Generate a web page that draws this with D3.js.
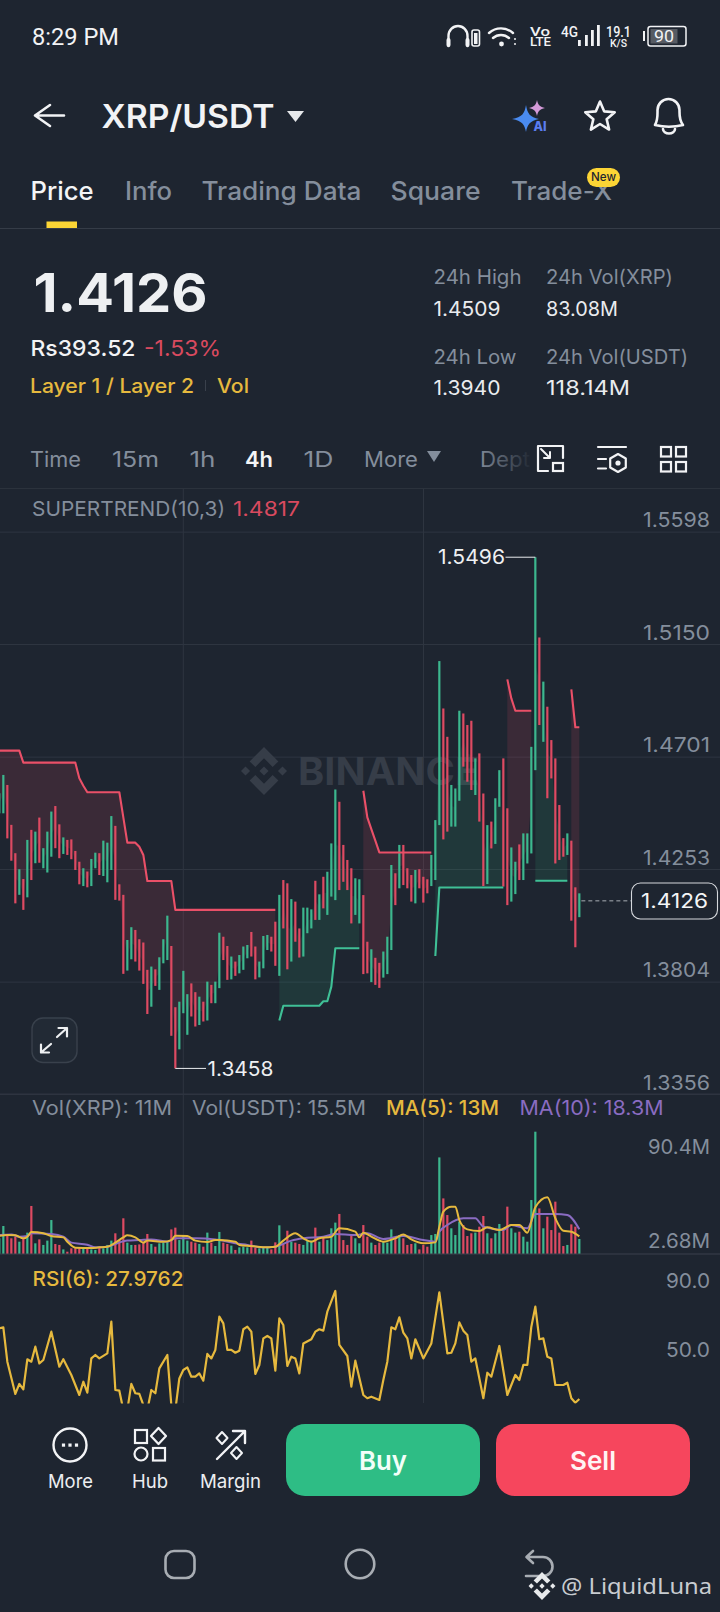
<!DOCTYPE html>
<html><head><meta charset="utf-8">
<script src="https://cdn.jsdelivr.net/npm/d3@7/dist/d3.min.js"></script>
<style>html,body{margin:0;padding:0;background:#1e2530;overflow:hidden}svg{display:block}</style>
</head><body><svg id="c" width="720" height="1612"></svg>
<script>
// ---- values ----
const firstIndex = -1;
const highs = [1.4555,1.4628,1.4588,1.4429,1.4316,1.4252,1.4213,1.4369,1.4409,1.4402,1.4458,
1.4336,1.4402,1.4482,1.4504,1.4431,1.4379,1.4369,1.4371,1.4325,1.4282,
1.4256,1.4243,1.4293,1.4318,1.4316,1.4366,1.4358,1.4464,1.4425,1.4192,
1.4150,1.3970,1.4021,1.4010,1.3973,1.3960,1.3851,1.3864,1.3853,1.3901,
1.3973,1.4067,1.3946,1.3702,1.3724,1.3847,1.3754,1.3797,1.3762,1.3744,
1.3724,1.3804,1.3791,1.3804,1.3999,1.3983,1.3946,1.3904,1.3884,1.3910,
1.3944,1.3950,1.4002,1.3944,1.3884,1.3986,1.3990,1.3983,1.4043,1.4150,
1.4209,1.4196,1.4133,1.4123,1.4016,1.4099,1.4099,1.4092,1.4206,1.4152,
1.4222,1.4242,1.4355,1.4570,1.4521,1.4349,1.4289,1.4256,1.4216,1.4212,
1.4149,1.3963,1.3933,1.3899,1.3879,1.3924,1.3983,1.4269,1.4236,1.4349,
1.4349,1.4256,1.4229,1.4249,1.4252,1.4222,1.4212,1.4309,1.4448,1.5082,
1.4893,1.4780,1.4588,1.4574,1.4884,1.4873,1.4827,1.4844,1.4694,1.4714,
1.4554,1.4428,1.4442,1.4535,1.4647,1.4694,1.4495,1.4339,1.4282,1.4351,
1.4395,1.4395,1.4740,1.5496,1.5176,1.5000,1.4900,1.4767,1.4694,1.4508,
1.4376,1.4395,1.4366,1.4180,1.4156];
const lows = [1.4475,1.4475,1.4375,1.4286,1.4116,1.4150,1.4090,1.4140,1.4209,1.4276,1.4278,
1.4256,1.4239,1.4302,1.4336,1.4296,1.4313,1.4309,1.4292,1.4249,1.4192,
1.4185,1.4180,1.4185,1.4256,1.4229,1.4225,1.4200,1.4249,1.4130,1.4127,
1.3835,1.3848,1.3893,1.3884,1.3848,1.3795,1.3675,1.3704,1.3787,1.3771,
1.3877,1.3890,1.3588,1.3458,1.3534,1.3678,1.3592,1.3665,1.3625,1.3631,
1.3645,1.3649,1.3718,1.3718,1.3778,1.3890,1.3811,1.3813,1.3827,1.3837,
1.3851,1.3897,1.3904,1.3813,1.3821,1.3857,1.3930,1.3924,1.3867,1.3827,
1.4016,1.3853,1.3884,1.3963,1.3900,1.3904,1.3997,1.4016,1.4050,1.4050,
1.4096,1.4070,1.4143,1.4129,1.4169,1.4202,1.4169,1.4036,1.4070,1.4036,
1.3834,1.3837,1.3802,1.3791,1.3779,1.3820,1.3834,1.3930,1.4109,1.4176,
1.4189,1.4176,1.4123,1.4116,1.4176,1.4119,1.4156,1.4185,1.4209,1.4428,
1.4371,1.4402,1.4422,1.4422,1.4525,1.4661,1.4601,1.4568,1.4548,1.4442,
1.4185,1.4193,1.4335,1.4353,1.4501,1.4183,1.4109,1.4123,1.4153,1.4209,
1.4209,1.4275,1.4315,1.4647,1.4827,1.4760,1.4535,1.4614,1.4275,1.4289,
1.4302,1.4309,1.4047,1.3941,1.4061];
const directions = ("G"+"GRRRGRGRGR"+"GGGRRGRRRR"+"GRGGRGGGRR"+"RGGRRRRGRG"+"GGRRGGGRRG"+
"RGRGGRRGRG"+"GGRRGGGRRG"+"RRGRRGGGRG"+"RGGGRRRRGG"+"RRGRRGGGRG"+
"RRRGRRRGGG"+"RRGGGRRRGR"+"RGRGGRRGGR"+"GGGGRGRRRR"+"RGRRG").split("");
const volumes = [11.6,20.7,13.8,11.6,12.8,9.1,12.1,15.8,35.5,7.9,10.8,
6.7,9.9,25.1,7.4,6.7,3.4,1.7,4.2,4.2,4.2,
4.2,4.2,3.4,3.0,4.9,4.2,6.7,9.9,15.3,10.3,
26.4,8.4,6.7,6.7,7.1,9.1,14.8,7.4,5.4,7.9,
8.4,9.1,18.2,19.5,10.3,14.0,9.9,9.1,8.4,7.4,
5.4,15.8,8.4,5.9,16.3,8.4,7.4,6.2,3.0,4.9,
5.4,4.9,9.9,4.7,4.2,4.9,4.9,3.4,8.6,21.2,
7.4,17.2,9.1,8.4,7.4,6.7,10.3,9.9,19.5,9.1,
13.3,10.3,19.0,23.2,29.6,10.3,6.7,14.8,11.6,7.9,
21.4,12.8,8.4,6.7,8.4,9.1,8.4,18.2,11.6,14.0,
11.6,6.7,7.4,7.9,3.4,6.7,5.4,14.0,14.8,71.4,
41.1,28.8,19.0,14.0,23.9,21.4,13.3,15.3,15.8,20.2,
28.1,15.3,11.6,15.3,22.2,17.7,35.0,19.0,15.8,16.5,
12.8,9.1,39.9,90.4,33.7,19.0,27.6,17.7,38.7,15.8,
5.9,6.7,21.9,20.2,11.1];
const supertrend = [1.4725,1.4725,1.4725,1.4725,1.4725,1.4725,
1.4677,1.4677,1.4677,1.4677,1.4677,1.4677,1.4677,1.4677,1.4677,1.4677,1.4677,1.4677,1.4677,1.4677,
1.4615,1.4585,1.4559,1.4559,1.4559,1.4559,1.4559,1.4559,1.4559,1.4559,1.4559,
1.4459,1.4358,1.4358,1.4358,1.4342,1.4309,1.4205,1.4205,1.4205,1.4205,1.4205,1.4205,1.4205,
1.4090,1.4090,1.4090,1.4090,1.4090,1.4090,1.4090,1.4090,1.4090,1.4090,1.4090,1.4090,1.4090,
1.4090,1.4090,1.4090,1.4090,1.4090,1.4090,1.4090,1.4090,1.4090,1.4090,1.4090,1.4090,1.4090,
1.3649,1.3708,1.3708,1.3708,1.3708,1.3708,1.3708,1.3708,1.3708,1.3708,1.3708,1.3726,1.3726,1.3784,
1.3937,1.3937,1.3937,1.3937,1.3937,1.3937,1.3937,
1.4565,1.4459,1.4412,1.4366,1.4319,1.4319,1.4319,1.4319,1.4319,1.4319,1.4319,1.4319,1.4319,1.4319,1.4319,1.4319,1.4319,1.4319,
1.3906,1.4179,1.4179,1.4179,1.4179,1.4179,1.4179,1.4179,1.4179,1.4179,1.4179,1.4179,1.4179,1.4179,1.4179,1.4179,1.4179,1.4179,
1.5009,1.4933,1.4884,1.4884,1.4884,1.4884,1.4884,
1.4206,1.4206,1.4206,1.4206,1.4206,1.4206,1.4206,1.4206,1.4206,
1.4969,1.4818,1.4818];
const trendRuns = [["R",-1,68],["G",69,89],["R",90,107],["G",108,125],["R",126,132],["G",133,141],["R",142,144]];
const ma5At = [-1,1,3,5,6,7,10,12,15,16,18,22,24,26,28,30,31,33,35,36,40,42,43,46,48,51,53,54,58,59,62,65,68,70,73,75,77,79,82,84,88,89,90,92,95,98,100,102,105,108,109,110,112,113,114,116,119,121,124,127,129,131,133,136,138,140,142,144];
const ma5Val = [13.5,14.0,13.8,11.6,12.8,16.3,15.3,13.3,12.3,9.1,4.7,4.4,4.9,5.4,8.4,12.3,13.8,12.3,8.4,9.9,9.1,10.3,13.5,13.3,9.9,8.9,10.3,10.3,9.1,6.7,5.9,4.9,5.4,9.9,15.3,11.6,9.1,11.6,12.8,19.0,16.5,12.3,15.8,12.8,9.1,11.6,14.5,10.8,7.9,8.6,20.2,31.3,35.0,35.0,25.1,18.2,17.0,19.7,17.7,21.4,21.4,15.8,34.5,41.9,26.4,17.2,16.5,13.0];
const ma10At = [-1,2,4,6,7,12,15,17,21,23,26,28,31,34,37,41,43,48,53,54,58,61,65,68,72,75,80,83,88,91,95,100,105,108,109,111,115,118,120,125,127,131,133,138,141,144];
const ma10Val = [14.0,14.5,12.8,13.3,15.3,14.8,12.8,8.4,6.9,4.9,5.4,7.4,9.9,10.3,10.8,9.1,11.6,11.6,10.8,10.3,7.9,6.7,4.9,5.4,9.9,11.6,12.8,14.8,14.0,15.3,11.1,13.3,10.3,9.1,16.5,21.4,26.4,26.4,20.2,17.7,21.4,19.0,29.6,29.6,28.8,18.3];
const rsiAt = [-1,0,1,3,4,5,6,7,8,9,10,12,14,15,17,19,20,21,22,23,24,26,27,28,29,30,31,32,33,34,35,36,37,38,39,41,42,43,44,45,46,47,48,49,50,51,52,53,54,55,56,57,58,59,60,61,62,63,64,65,66,67,68,69,70,71,72,73,74,75,77,78,79,80,81,83,84,86,87,88,90,91,92,94,95,96,97,98,99,100,101,102,103,105,107,109,111,112,113,114,115,116,117,118,120,121,122,124,126,128,129,130,131,132,133,134,135,136,137,138,139,140,141,142,143,144];
const rsiVal = [68.9,69.5,49.6,30.9,36.7,33.6,51.0,49.6,58.3,48.6,50.6,67.0,46.7,51.0,41.9,30.3,38.0,31.6,51.5,53.5,51.5,54.4,72.8,33.2,32.8,21.6,21.6,36.7,31.3,30.9,24.5,21.6,33.2,31.3,45.7,53.5,24.5,21.6,39.9,44.8,46.3,40.9,40.9,42.8,38.6,54.1,51.5,56.4,75.7,71.8,56.4,56.4,54.8,56.0,68.4,69.9,67.0,42.5,47.7,63.1,64.5,63.1,44.4,74.7,70.9,47.1,52.5,51.5,42.8,60.2,62.6,67.0,68.4,67.6,78.6,90.6,59.3,52.9,35.1,50.2,30.3,28.4,29.3,27.4,39.0,49.6,69.5,68.4,75.3,66.4,63.1,51.5,62.6,51.5,60.2,89.8,54.4,54.8,60.2,72.4,67.6,65.1,49.6,51.5,28.4,43.2,40.9,58.7,30.3,41.9,39.0,47.7,47.7,69.9,81.5,62.6,63.1,52.5,51.5,36.1,36.1,36.1,37.4,28.4,25.8,27.98];
const priceTicks = [1.5598,1.5150,1.4701,1.4253,1.3804,1.3356];
const volTicks = [90.4,2.68];
const volTickLabels = ["90.4M","2.68M"];
const rsiTicks = [90,50];
const lastPrice = 1.4126, maxPrice = 1.5496, minPrice = 1.3458;
const ranges = ["Time","15m","1h","4h","1D","More"];

// ---- palette ----
const BG="#1e2530", RED="#de4a62", GREEN="#3cb78e", LRED="#ea5068", LGREEN="#3fc096",
      YEL="#e6b93e", PUR="#8a6cc2", GRY="#848e9c", WHT="#eaecef", GRID="#2e3540";
const FONT="Inter, 'Noto Sans', sans-serif";

const svg=d3.select("#c");
svg.append("rect").attr("width",720).attr("height",1612).attr("fill",BG);

// text helper: x is the start (or the middle/end according to anchor), y the vertical centre
function T(s,x,y,size,color,o={}){
  const t=(o.g||svg).append("text").text(s).attr("x",x).attr("y",y).attr("dy",".36em")
    .attr("font-family",o.font||FONT).attr("font-size",size).attr("fill",color)
    .attr("font-weight",o.w||400).attr("text-anchor",o.a||"start");
  if(o.len) t.attr("textLength",o.len).attr("lengthAdjust","spacingAndGlyphs");
  if(o.op) t.attr("opacity",o.op);
  return t;
}
function P(d,o={}){
  return (o.g||svg).append("path").attr("d",d).attr("fill",o.fill||"none")
    .attr("stroke",o.stroke||"none").attr("stroke-width",o.sw||2)
    .attr("stroke-linecap",o.cap||"round").attr("stroke-linejoin","round");
}
function binanceLogo(cx,cy,s,fill,g){
  const shapes=[[[0,-.19],[.19,0],[0,.19],[-.19,0]],[[-.77,-.19],[-.58,0],[-.77,.19],[-.96,0]],[[.77,-.19],[.96,0],[.77,.19],[.58,0]],
    [[0,-1],[.6,-.4],[.36,-.17],[0,-.53],[-.36,-.17],[-.6,-.4]],[[0,1],[.6,.4],[.36,.17],[0,.53],[-.36,.17],[-.6,.4]]];
  shapes.forEach(p=>(g||svg).append("polygon").attr("fill",fill)
    .attr("points",p.map(q=>[cx+q[0]*s,cy+q[1]*s].join(",")).join(" ")));
}

// ---- status bar ----
T("8:29 PM",32,37,23,"#f2f3f5",{font:"Roboto",len:87});
P("M448.5 46 V36 a9.5 10 0 0 1 19 0 V46",{stroke:"#f2f3f5",sw:2.4});
svg.append("rect").attr("x",446.5).attr("y",38).attr("width",4).attr("height",9).attr("rx",2).attr("fill","#f2f3f5");
svg.append("rect").attr("x",465.5).attr("y",38).attr("width",4).attr("height",9).attr("rx",2).attr("fill","#f2f3f5");
svg.append("rect").attr("x",472).attr("y",30).attr("width",7.5).attr("height",16).attr("rx",2).attr("fill","none").attr("stroke","#f2f3f5").attr("stroke-width",1.6);
svg.append("rect").attr("x",474).attr("y",33).attr("width",3.5).attr("height",11).attr("fill","#f2f3f5");
P("M489 33 a18 18 0 0 1 24 0",{stroke:"#f2f3f5",sw:2.4});
P("M493 38 a12 12 0 0 1 16 0",{stroke:"#f2f3f5",sw:2.4});
svg.append("circle").attr("cx",501.5).attr("cy",44).attr("r",2.4).attr("fill","#f2f3f5");
svg.append("circle").attr("cx",515).attr("cy",39).attr("r",1).attr("fill","#f2f3f5");
svg.append("circle").attr("cx",515).attr("cy",44).attr("r",1).attr("fill","#f2f3f5");
T("Vo",530,31,13,"#f2f3f5",{font:"Roboto",w:500,len:20});
T("LTE",530,42,12,"#f2f3f5",{font:"Roboto",w:500,len:21});
T("4G",561,32,14,"#f2f3f5",{font:"Roboto",w:500,len:17});
[[578,40],[585,35],[591,30],[597,25]].forEach(b=>svg.append("rect").attr("x",b[0]).attr("y",b[1]).attr("width",2.8).attr("height",46-b[1]).attr("fill","#f2f3f5"));
T("19.1",606,32,15,"#f2f3f5",{font:"Roboto",w:500,len:25});
T("K/S",610,43.5,11,"#f2f3f5",{font:"Roboto",w:500,len:17});
svg.append("rect").attr("x",643).attr("y",31).attr("width",2).attr("height",10).attr("fill","#f2f3f5");
svg.append("rect").attr("x",648).attr("y",26.5).attr("width",38).attr("height",19.5).attr("rx",2.5).attr("fill","none").attr("stroke","#f2f3f5").attr("stroke-width",1.5);
svg.append("rect").attr("x",650.5).attr("y",29).attr("width",27).attr("height",14.5).attr("fill","#565b63");
T("90",654,36.5,16,"#f2f3f5",{font:"Roboto",len:20});

// ---- header ----
P("M64 115.5 H35 M50 105 L35 115.5 L50 126",{stroke:"#f2f3f5",sw:2.6});
T("XRP/USDT",101.5,116,32,"#f2f3f5",{w:600,len:173});
P("M287 111 H304 L295.5 122 Z",{fill:"#e6e8ea"});
P("M526 105 C527.5 114 530 117 539 119 C530 121 527.5 124 526 132 C524.5 124 522 121 512 119 C522 117 524.5 114 526 105Z",{fill:"#4a8bf0"});
P("M537 100 C538 105 540 107 545 108 C540 109 538 111 537 116 C536 111 534 109 529 108 C534 107 536 105 537 100Z",{fill:"#d49ad8"});
T("AI",533.5,126.5,13,"#5b7ef0",{w:800,len:13});
const starPts=d3.range(10).map(i=>{const r=i%2?7:15.5,a=-Math.PI/2+i*Math.PI/5;return [600+r*Math.cos(a),117+r*Math.sin(a)];});
P("M"+starPts.map(p=>p.join(",")).join("L")+"Z",{stroke:"#f2f3f5",sw:2.6});
P("M655 125 C658 120 657.5 115 657.5 110 A11 11 0 0 1 679.5 110 C679.5 115 679 120 683 125 Q669 128.5 655 125Z",{stroke:"#f2f3f5",sw:2.6});
P("M663 129 A6 4.5 0 0 0 675 129",{stroke:"#f2f3f5",sw:2.6});

// ---- tabs ----
T("Price",30.5,191,25,"#f4f5f6",{w:500,len:63});
T("Info",125,191,25,GRY,{w:500,len:47});
T("Trading Data",201.5,191,25,GRY,{w:500,len:160});
T("Square",390.5,191,25,GRY,{w:500,len:90});
T("Trade-X",511,191,25,GRY,{w:500,len:101});
svg.append("rect").attr("x",587).attr("y",168).attr("width",33).attr("height",19).attr("rx",9.5).attr("fill","#fcd535");
T("New",603.5,177,12,"#1e2530",{a:"middle",w:500,len:25});
svg.append("rect").attr("x",46.5).attr("y",221.5).attr("width",30.5).attr("height",6.5).attr("fill","#fcd535");
svg.append("rect").attr("x",0).attr("y",228).attr("width",720).attr("height",1).attr("fill","#353c47");

// ---- price block ----
T("1.4126",33.5,292.5,53,"#eef0f2",{w:700,len:174});
T("Rs393.52",30.5,348,22,"#f2f3f5",{w:500,len:105});
T("-1.53%",144,348,22,"#d94a5f",{len:77});
T("Layer 1 / Layer 2",30,386,20,YEL,{w:500,len:164});
svg.append("rect").attr("x",205).attr("y",380).attr("width",1).attr("height",11).attr("fill","#3a414c");
T("Vol",217,386,20,YEL,{w:500,len:32});
T("24h High",433.5,277,20,GRY,{len:88});
T("24h Vol(XRP)",546,277,20,GRY,{len:127});
T("1.4509",433.5,309,20,"#eaecef",{len:67});
T("83.08M",546,309,20,"#eaecef",{len:72});
T("24h Low",433.5,357,20,GRY,{len:83});
T("24h Vol(USDT)",546,357,20,GRY,{len:142});
T("1.3940",433.5,388,20,"#eaecef",{len:67});
T("118.14M",546,388,20,"#eaecef",{len:84});

// ---- interval row ----
const rangeX=[[30,51],[112,47],[189.5,26],[245,28],[303.5,30],[364,54]];
ranges.forEach((r,i)=>T(r,rangeX[i][0],459,21,r==="4h"?"#f4f5f6":GRY,{w:r==="4h"?600:400,len:rangeX[i][1]}));
P("M427 451 H441 L434 462 Z",{fill:GRY});
const defs=svg.append("defs");
const fade=defs.append("linearGradient").attr("id","fade");
fade.append("stop").attr("offset","0").attr("stop-color",GRY).attr("stop-opacity",.95);
fade.append("stop").attr("offset","1").attr("stop-color",GRY).attr("stop-opacity",.05);
T("Dept",480,459,21,"url(#fade)",{len:50});
P("M552 446 H538 V471 H548 M563 458 V446 H552",{stroke:"#f2f3f5",sw:2.2});
svg.append("rect").attr("x",553).attr("y",463).attr("width",10).attr("height",8).attr("fill","none").attr("stroke","#f2f3f5").attr("stroke-width",2.2);
P("M541 449 L550 458 M550 452 V458 H544",{stroke:"#f2f3f5",sw:2});
P("M598 447 H626",{stroke:"#f2f3f5",sw:2.2});
P("M598 459 H606 M598 468.5 H606",{stroke:"#f2f3f5",sw:2.2});
const hex=d3.range(6).map(i=>{const a=-Math.PI/2+i*Math.PI/3;return [618+9*Math.cos(a),463+9*Math.sin(a)];});
P("M"+hex.map(p=>p.join(",")).join("L")+"Z",{stroke:"#f2f3f5",sw:2.2});
svg.append("circle").attr("cx",618).attr("cy",463).attr("r",2.6).attr("fill","#f2f3f5");
[[661,446],[676,446],[661,461],[676,461]].forEach(q=>svg.append("rect").attr("x",q[0]).attr("y",q[1]+1).attr("width",10).attr("height",9.5).attr("fill","none").attr("stroke","#f2f3f5").attr("stroke-width",2.2));
svg.append("rect").attr("x",0).attr("y",488).attr("width",720).attr("height",1).attr("fill","#2b323c");

// ---- scales ----
const x=d3.scaleLinear().domain([-1,144]).range([-0.67,579.33]);
const y=d3.scaleLinear().domain([1.5150,1.4253]).range([644,869]);
const yVol=d3.scaleLinear().domain([0,90.4]).range([1254,1131.7]);
const yRsi=d3.scaleLinear().domain([90,50]).range([1292,1361]);
const candles=highs.map((h,k)=>({i:k+firstIndex,h,l:lows[k],d:directions[k],v:volumes[k],st:supertrend[k]}));
const col=d=>d==="G"?GREEN:RED;
defs.append("clipPath").attr("id","rsiClip").append("rect").attr("x",0).attr("y",1265).attr("width",720).attr("height",138.5);

// ---- grid and price axis ----
function axisStyle(g,size,dy,len){
  g.select(".domain").remove();
  g.selectAll(".tick line").attr("stroke",GRID).attr("stroke-width",1);
  g.selectAll(".tick text").attr("x",710).attr("text-anchor","end").attr("dy",0).attr("y",dy)
    .attr("font-family",FONT).attr("font-size",size).attr("fill",GRY)
    .attr("textLength",len).attr("lengthAdjust","spacingAndGlyphs");
}
svg.append("g").call(d3.axisLeft(y).tickValues(priceTicks).tickSize(-720).tickFormat(d3.format(".4f")))
   .call(g=>axisStyle(g,20,-5,67));
[183.3,423.5].forEach(v=>svg.append("line").attr("x1",v).attr("x2",v).attr("y1",489).attr("y2",1403).attr("stroke",GRID));

// ---- watermark ----
binanceLogo(264,771,24,"#363d48");
T("BINANCE",298,771,38,"#363d48",{w:700,len:181});

// ---- supertrend fill, candles, line ----
const main=svg.append("g");
trendRuns.forEach(r=>{
  const seg=candles.filter(c=>c.i>=r[1]&&c.i<=r[2]);
  main.append("path").datum(seg)
    .attr("d",d3.area().x(c=>x(c.i)).y0(c=>y(c.st)).y1(c=>y((c.h+c.l)/2)))
    .attr("fill",r[0]==="G"?"rgba(46,189,133,.13)":"rgba(222,74,98,.15)");
});
main.selectAll("rect.candle").data(candles).join("rect").attr("class","candle")
  .attr("x",c=>x(c.i)-1.1).attr("width",2.2)
  .attr("y",c=>y(c.h)).attr("height",c=>y(c.l)-y(c.h)).attr("fill",c=>col(c.d));
trendRuns.forEach(r=>{
  const seg=candles.filter(c=>c.i>=r[1]&&c.i<=r[2]);
  main.append("path").datum(seg).attr("d",d3.line().x(c=>x(c.i)).y(c=>y(c.st)))
    .attr("fill","none").attr("stroke",r[0]==="G"?LGREEN:LRED).attr("stroke-width",2.1).attr("stroke-linejoin","round");
});

// ---- max / min / last labels ----
const iMax=highs.indexOf(maxPrice)+firstIndex, iMin=lows.indexOf(minPrice)+firstIndex;
svg.append("line").attr("x1",x(iMax)).attr("x2",505.5).attr("y1",y(maxPrice)).attr("y2",y(maxPrice)).attr("stroke","#eaecef");
T(d3.format(".4f")(maxPrice),438,y(maxPrice),20,"#eef0f2",{len:67});
svg.append("line").attr("x1",x(iMin)).attr("x2",206).attr("y1",y(minPrice)).attr("y2",y(minPrice)).attr("stroke","#eaecef");
T(d3.format(".4f")(minPrice),207.5,y(minPrice),20,"#eef0f2",{len:66});
svg.append("line").attr("x1",x(144)+2).attr("x2",631).attr("y1",y(lastPrice)).attr("y2",y(lastPrice))
  .attr("stroke","#a9aeb5").attr("stroke-dasharray","4 3");
svg.append("rect").attr("x",631.5).attr("y",883).attr("width",86).attr("height",36).attr("rx",9).attr("fill",BG).attr("stroke","#d5d8dc").attr("stroke-width",1.1);
T(d3.format(".4f")(lastPrice),674.5,y(lastPrice),20,"#f4f5f6",{a:"middle",len:67});

// ---- expand button ----
svg.append("rect").attr("x",32).attr("y",1018).attr("width",45).attr("height",44.5).attr("rx",11).attr("fill","#222a35").attr("stroke","#39414c").attr("stroke-width",1.4);
P("M57 1037 L67 1028 M58.5 1028 H67 V1036.5 M51 1044 L41 1052.5 M41 1044.5 V1052.5 H49",{stroke:"#eef0f2",sw:2.2});

// ---- indicator legend ----
T("SUPERTREND(10,3)",32,509,20,GRY,{len:193});
T("1.4817",233,509,20,"#d94a5f",{len:67});

// ---- volume pane ----
svg.append("line").attr("x1",0).attr("x2",720).attr("y1",1094).attr("y2",1094).attr("stroke",GRID);
T("Vol(XRP): 11M",32,1108,20,GRY,{len:140});
T("Vol(USDT): 15.5M",192,1108,20,GRY,{len:174});
T("MA(5): 13M",386,1108,20,YEL,{w:500,len:113});
T("MA(10): 18.3M",519.5,1108,20,PUR,{len:144});
svg.append("g").selectAll("rect").data(candles).join("rect")
  .attr("x",c=>x(c.i)-1.1).attr("width",2.2)
  .attr("y",c=>yVol(c.v)).attr("height",c=>yVol(0)-yVol(c.v)).attr("fill",c=>col(c.d));
const maLine=d3.line().x(p=>x(p[0])).y(p=>yVol(p[1])).curve(d3.curveMonotoneX);
svg.append("path").datum(d3.zip(ma10At,ma10Val)).attr("d",maLine).attr("fill","none").attr("stroke",PUR).attr("stroke-width",2);
svg.append("path").datum(d3.zip(ma5At,ma5Val)).attr("d",maLine).attr("fill","none").attr("stroke",YEL).attr("stroke-width",2);
svg.append("line").attr("x1",0).attr("x2",720).attr("y1",1254).attr("y2",1254).attr("stroke","#3a414c");
const volAxis=d3.axisLeft(yVol).tickValues(volTicks).tickSize(0).tickFormat((d,k)=>volTickLabels[k]);
svg.append("g").call(volAxis).call(g=>axisStyle(g,20,7,62)).call(g=>{
  g.selectAll(".tick").attr("transform",(d,k)=>"translate(0,"+(k===0?1147:1241)+")");
});

// ---- RSI pane ----
T("RSI(6): 27.9762",32.5,1279,20,YEL,{w:500,len:151});
svg.append("path").datum(d3.zip(rsiAt,rsiVal)).attr("clip-path","url(#rsiClip)")
  .attr("d",d3.line().x(p=>x(p[0])).y(p=>yRsi(p[1])))
  .attr("fill","none").attr("stroke",YEL).attr("stroke-width",2.2).attr("stroke-linejoin","round");
svg.append("g").call(d3.axisLeft(yRsi).tickValues(rsiTicks).tickSize(0).tickFormat(d3.format(".1f")))
  .call(g=>axisStyle(g,20,-5,44));

// ---- bottom bar ----
svg.append("circle").attr("cx",70).attr("cy",1445).attr("r",16.5).attr("fill","none").attr("stroke","#f2f3f5").attr("stroke-width",2.4);
[63.5,70,76.5].forEach(v=>svg.append("rect").attr("x",v-1.6).attr("y",1443.5).attr("width",3.2).attr("height",3.2).attr("fill","#f2f3f5"));
T("More",48,1481,19,"#eceef0",{len:45});
svg.append("rect").attr("x",135).attr("y",1430).attr("width",12).attr("height",13).attr("fill","none").attr("stroke","#f2f3f5").attr("stroke-width",2.2);
P("M158.5 1428 L166 1436 L158.5 1444 L151 1436 Z",{stroke:"#f2f3f5",sw:2.2});
svg.append("circle").attr("cx",141).attr("cy",1454).attr("r",6.5).attr("fill","none").attr("stroke","#f2f3f5").attr("stroke-width",2.2);
svg.append("rect").attr("x",153).attr("y",1448).attr("width",12).attr("height",12.5).attr("fill","none").attr("stroke","#f2f3f5").attr("stroke-width",2.2);
T("Hub",132,1481,19,"#eceef0",{len:36});
P("M217 1459 L245 1431 M233 1431 H245 V1443",{stroke:"#f2f3f5",sw:2.4});
P("M222 1432 L227.5 1438 L222 1444 L216.5 1438 Z",{stroke:"#f2f3f5",sw:2});
P("M236.5 1447 L242 1453 L236.5 1459 L231 1453 Z",{stroke:"#f2f3f5",sw:2});
T("Margin",200,1481,19,"#eceef0",{len:61});
svg.append("rect").attr("x",286).attr("y",1424).attr("width",194).attr("height",72).attr("rx",19).attr("fill","#2ebd85");
T("Buy",383,1461,26,"#f2fff9",{a:"middle",w:600,len:48});
svg.append("rect").attr("x",496).attr("y",1424).attr("width",194).attr("height",72).attr("rx",19).attr("fill","#f6465d");
T("Sell",593,1461,26,"#fff3f4",{a:"middle",w:600,len:46});

// ---- navigation bar & credit ----
svg.append("rect").attr("x",165.5).attr("y",1551).attr("width",29).attr("height",27).attr("rx",8.5).attr("fill","none").attr("stroke","#a8adb3").attr("stroke-width",2.6);
svg.append("circle").attr("cx",360).attr("cy",1564).attr("r",14.3).attr("fill","none").attr("stroke","#a8adb3").attr("stroke-width",2.6);
P("M533 1551 L526.5 1557 L533 1563 M527 1557 H543 A9.5 9.5 0 0 1 543 1576 H526",{stroke:"#a8adb3",sw:2.6});
binanceLogo(542,1586,14,"#e8eaec");
T("@ LiquidLuna",561,1586,22,"#c8ccd0",{font:"'Noto Sans'",len:151});
</script></body></html>
